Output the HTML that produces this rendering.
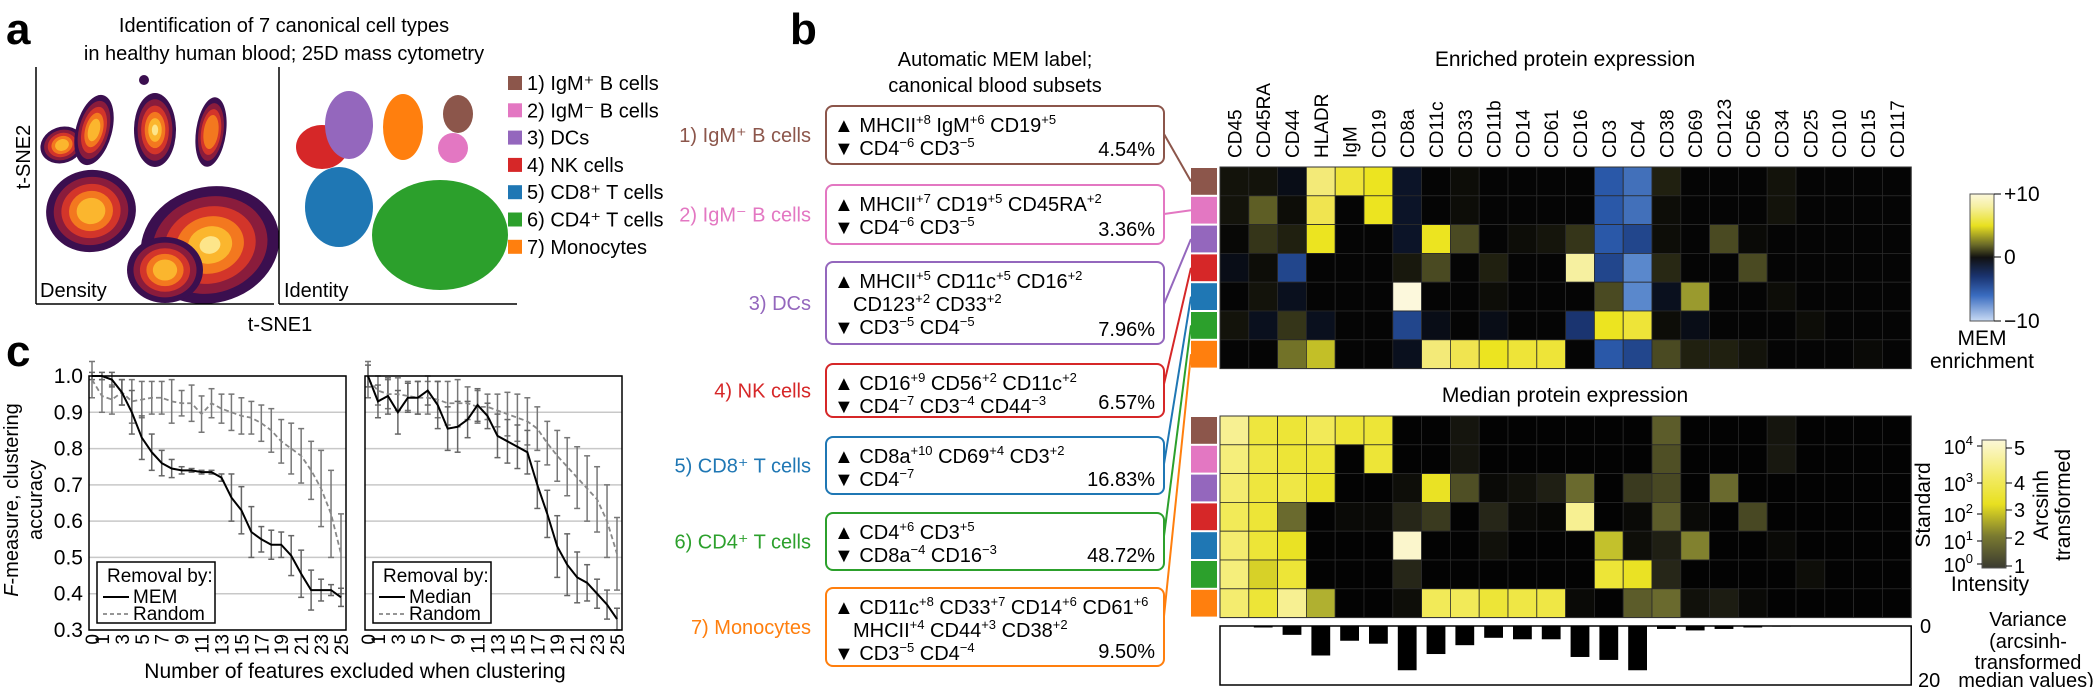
<!DOCTYPE html>
<html><head><meta charset="utf-8"><style>
html,body{margin:0;padding:0;background:#fff;}
svg{display:block;font-family:"Liberation Sans",Arial,sans-serif;}
</style></head><body>
<svg id="fig" width="2100" height="687" viewBox="0 0 2100 687" xmlns="http://www.w3.org/2000/svg">
<defs>
<linearGradient id="memGrad" x1="0" y1="0" x2="0" y2="1">
<stop offset="0" stop-color="#fcf8dc"/><stop offset="0.1" stop-color="#f6f0a0"/><stop offset="0.25" stop-color="#e8e020"/><stop offset="0.4" stop-color="#6a6a28"/><stop offset="0.5" stop-color="#111"/><stop offset="0.65" stop-color="#1a3470"/><stop offset="0.8" stop-color="#3a6cc0"/><stop offset="1" stop-color="#c8daf4"/>
</linearGradient>
<linearGradient id="medGrad" x1="0" y1="0" x2="0" y2="1">
<stop offset="0" stop-color="#fcf8d8"/><stop offset="0.3" stop-color="#f2ea60"/><stop offset="0.5" stop-color="#e8e020"/><stop offset="0.75" stop-color="#7a7a30"/><stop offset="1" stop-color="#3a3a30"/>
</linearGradient>
</defs>

<!-- Panel a -->
<g>
<text x="6" y="44" font-size="44" font-weight="bold">a</text>
<text x="284" y="32" font-size="20" text-anchor="middle">Identification of 7 canonical cell types</text>
<text x="284" y="60" font-size="20" text-anchor="middle">in healthy human blood; 25D mass cytometry</text>
<g id="density"></g>
<g id="identity"></g>
<line x1="36" y1="67" x2="36" y2="304" stroke="#000" stroke-width="1.5"/>
<line x1="36" y1="304" x2="274" y2="304" stroke="#000" stroke-width="1.5"/>
<line x1="279" y1="67" x2="279" y2="304" stroke="#000" stroke-width="1.5"/>
<line x1="279" y1="304" x2="517" y2="304" stroke="#000" stroke-width="1.5"/>
<text transform="translate(30,157) rotate(-90)" font-size="20" text-anchor="middle">t-SNE2</text>
<text x="40" y="297" font-size="20">Density</text>
<text x="284" y="297" font-size="20">Identity</text>
<text x="280" y="331" font-size="20" text-anchor="middle">t-SNE1</text>
<g id="legendA"></g>
</g>

<!-- Panel c -->
<g>
<text x="6" y="366" font-size="44" font-weight="bold">c</text>
<text transform="translate(18,500) rotate(-90)" font-size="20" text-anchor="middle"><tspan font-style="italic">F</tspan>-measure, clustering</text>
<text transform="translate(42,500) rotate(-90)" font-size="20" text-anchor="middle">accuracy</text>
<g id="linePlots"></g>
<text x="355" y="678" font-size="21" text-anchor="middle">Number of features excluded when clustering</text>
</g>

<!-- Panel b -->
<g>
<text x="790" y="44" font-size="44" font-weight="bold">b</text>
<text x="995" y="66" font-size="20" text-anchor="middle">Automatic MEM label;</text>
<text x="995" y="92" font-size="20" text-anchor="middle">canonical blood subsets</text>
<text x="1565" y="66" font-size="21" text-anchor="middle">Enriched protein expression</text>
<text x="1565" y="402" font-size="21" text-anchor="middle">Median protein expression</text>
<g id="boxes"></g>
<g id="heat"></g>
<g id="colorbars"></g>
</g>
</svg>
<script>
// ---------- data ----------
const cellTypes = ["1) IgM⁺ B cells","2) IgM⁻ B cells","3) DCs","4) NK cells","5) CD8⁺ T cells","6) CD4⁺ T cells","7) Monocytes"];
const cellColors = ["#8c564b","#e377c2","#9467bd","#d62728","#1f77b4","#2ca02c","#ff7f0e"];
const markers = ["CD45","CD45RA","CD44","HLADR","IgM","CD19","CD8a","CD11c","CD33","CD11b","CD14","CD61","CD16","CD3","CD4","CD38","CD69","CD123","CD56","CD34","CD25","CD10","CD15","CD117"];
const enrich1 = [0.5,0.5,-0.5,8,6,5,-1,0,0.3,0,0,0,0,-5,-6,1,0,0,0,0.5,0,0,0,0];
const enrich2 = [0.5,2.5,0.3,7,0,5,-1,0,0.3,0,0,0,0,-5,-6,0.3,0,0,0,0.5,0,0,0,0];
const enrich3 = [0.1,1.5,1,5,0,0,-1,5,2,0,0.3,0.6,1.5,-5,-4,0.3,0,2,0.2,0,0,0,0,0];
const enrich4 = [-0.5,0.3,-4,0,0,0,0.7,2,0,1,0,0,9,-4,-7,1.2,0,0,2,0,0,0,0,0];
const enrich5 = [0,0.5,-0.7,0,0,0,10,0,0,0.3,0,0,0,2,-7,-0.7,4,0,0,0.3,0,0,0,0];
const enrich6 = [0.5,-0.7,1.5,-0.7,0,0,-4,-0.5,0,-0.5,0,0,-3,5,6,0.3,-0.5,0,0,0,0.3,0,0,0];
const enrich7 = [0,0,3,4.5,0,0,-0.7,8,7,5,6,6,0,-5,-4,2,1,1,0.5,0,0,0,0.2,0];
const median1 = [4.5,3.6,3.5,4,3.5,3.5,0,0,0.5,0,0,0,0,0,0,1.8,0,0,0,0.5,0,0,0,0];
const median2 = [4.3,3.7,3.5,3.5,0,3.5,0,0,0.5,0,0,0,0,0,0,1.6,0,0,0,0.6,0,0,0,0];
const median3 = [4.2,3.6,3.7,3.3,0,0,0.3,3.2,1.6,0.2,0.4,0.8,2,0,1.3,1.5,0,2,0,0,0,0,0,0];
const median4 = [4,3.5,2,0,0.2,0.2,1,1.3,0,1,0.2,0.1,4.5,0,0.2,1.8,0.2,0,1.5,0,0,0,0,0];
const median5 = [4.2,3.5,3.2,0,0,0,5,0,0,0.4,0,0,0,2.8,0.3,0.8,2.2,0,0,0.2,0,0,0,0];
const median6 = [4.3,3,3.5,0,0,0,1,0,0,0,0,0,0,3.5,3.2,1,0,0,0,0,0.3,0,0,0];
const median7 = [4.2,3.5,4.5,2.6,0,0,0.3,4,4,3.5,3.7,3.7,0.2,0,1.8,2,0.4,0.7,0.2,0,0,0,0,0];
const variance = [0,0.5,3,10,5,6,15,9.5,6.5,4,4.5,4.5,10.5,11.5,15,1,1.5,1,0.5,0.2,0,0,0,0];
const boxPercents = ["4.54%","3.36%","7.96%","6.57%","16.83%","48.72%","9.50%"];

const featX = [0,1,2,3,4,5,6,7,8,9,10,11,12,13,14,15,16,17,18,19,20,21,22,23,24,25];
const xTickLabels = ["0","1","3","5","7","9","11","13","15","17","19","21","23","25"];
const yTickLabels = ["1.0","0.9","0.8","0.7","0.6","0.5","0.4","0.3"];
const memF = [1.0,1.0,0.99,0.955,0.90,0.83,0.79,0.76,0.745,0.74,0.74,0.735,0.735,0.72,0.665,0.63,0.57,0.55,0.535,0.535,0.505,0.455,0.41,0.41,0.41,0.39];
const memErr = [0.01,0.01,0.02,0.035,0.06,0.06,0.05,0.035,0.025,0.01,0.005,0.005,0.005,0.01,0.065,0.065,0.07,0.035,0.04,0.035,0.055,0.065,0.055,0.03,0.015,0.025];
const rand1F = [0.99,0.945,0.935,0.955,0.93,0.935,0.94,0.94,0.93,0.925,0.925,0.895,0.925,0.91,0.9,0.89,0.885,0.87,0.85,0.82,0.80,0.78,0.74,0.69,0.62,0.51];
const rand1Err = [0.05,0.045,0.04,0.035,0.06,0.05,0.045,0.045,0.06,0.035,0.05,0.05,0.04,0.04,0.05,0.05,0.045,0.05,0.06,0.06,0.07,0.075,0.08,0.105,0.12,0.11];
const medF = [1.0,0.93,0.945,0.90,0.94,0.94,0.96,0.92,0.855,0.86,0.88,0.92,0.89,0.835,0.82,0.805,0.79,0.70,0.62,0.53,0.48,0.445,0.43,0.40,0.37,0.33];
const medErr = [0.03,0.045,0.05,0.06,0.04,0.045,0.04,0.065,0.06,0.07,0.05,0.045,0.035,0.06,0.06,0.06,0.06,0.065,0.065,0.085,0.085,0.07,0.05,0.04,0.04,0.03];
const rand2F = [0.99,0.96,0.95,0.95,0.945,0.94,0.94,0.935,0.925,0.925,0.925,0.915,0.915,0.905,0.895,0.885,0.875,0.855,0.815,0.78,0.75,0.72,0.69,0.66,0.60,0.51];
const rand2Err = [0.05,0.04,0.04,0.045,0.04,0.045,0.045,0.05,0.06,0.065,0.045,0.045,0.035,0.045,0.06,0.065,0.065,0.06,0.06,0.07,0.08,0.085,0.09,0.09,0.1,0.1];

// ---------- helpers ----------
const NS="http://www.w3.org/2000/svg";
function mk(parent,tag,attrs){const e=document.createElementNS(NS,tag);for(const k in attrs)e.setAttribute(k,attrs[k]);parent.appendChild(e);return e;}
function hex(c){return [parseInt(c.slice(1,3),16),parseInt(c.slice(3,5),16),parseInt(c.slice(5,7),16)];}
function interp(stops,v){
  if(v<=stops[0][0])return stops[0][1];
  for(let i=1;i<stops.length;i++){if(v<=stops[i][0]){const a=stops[i-1],b=stops[i];const t=(v-a[0])/(b[0]-a[0]);const ca=hex(a[1]),cb=hex(b[1]);return "rgb("+ca.map((x,j)=>Math.round(x+(cb[j]-x)*t)).join(",")+")";}}
  return stops[stops.length-1][1];
}
const memStops=[[-10,"#c0d4f0"],[-7,"#5a88cc"],[-5,"#2a58a8"],[-3,"#1a3470"],[-1,"#0c1428"],[0,"#050505"],[1,"#202010"],[2,"#4a4a22"],[4,"#9a9a2e"],[5,"#ece420"],[7,"#f0e450"],[9,"#f6f0a0"],[10,"#fcf8dc"]];
const medStops=[[0,"#030303"],[1,"#262618"],[2,"#6a6a2e"],[2.6,"#b0b030"],[3.2,"#eae224"],[4,"#f2ea58"],[5,"#fbf6cc"]];

// ---------- panel a blobs ----------
const dens=document.getElementById('density');
const dCols=["#3b0f4f","#8a1c3c","#d3352a","#f3781f","#fbb62e","#fde58a"];
function densBlob(cx,cy,rx,ry,rot,levels){
  for(let i=0;i<levels;i++){const f=1-i*0.17;
    const e=mk(dens,'ellipse',{cx:cx,cy:cy,rx:rx*f,ry:ry*f,fill:dCols[i],transform:`rotate(${rot} ${cx} ${cy})`});
    
    }
}
mk(dens,'circle',{cx:144,cy:80,r:5,fill:"#3b0f4f"});
densBlob(62,145,22,18,-20,5);densBlob(94,130,18,36,15,5);
densBlob(155,130,21,37,0,6);densBlob(211,132,15,35,8,4);
densBlob(91,211,45,41,-10,5);densBlob(210,245,70,58,-15,6);densBlob(165,270,38,33,0,5);
const ide=document.getElementById('identity');
[[322,147,26,22,0,3],[349,125,24,34,0,2],[403,127,20,33,0,6],[458,114,15,19,0,0],[453,148,15,15,0,1],[339,207,34,40,0,4],[440,235,68,55,0,5]].forEach(b=>{
  const e=mk(ide,'ellipse',{cx:b[0],cy:b[1],rx:b[2],ry:b[3],fill:cellColors[b[5]]});
  
  
});
const legA=document.getElementById('legendA');
cellTypes.forEach((t,i)=>{const y=83+i*27.3;
  const r=mk(legA,'rect',{x:508,y:y-7,width:14,height:14,fill:cellColors[i]});
  
  
  const tx=mk(legA,'text',{x:527,y:y+7,'font-size':20});tx.textContent=t;
  
  
});

// ---------- panel c ----------
const lp=document.getElementById('linePlots');
function linePlot(left,series,serErr,rnd,rndErr,legName){
  const top=376,bot=630,w=257;
  const X=i=>left+3+i*(w-8)/25;
  const Y=v=>top+(1.0-v)/0.7*(bot-top);
  const g=mk(lp,'g',{});
  
  
  yTickLabels.forEach(l=>{const v=parseFloat(l);
    const gl=mk(g,'line',{x1:left,x2:left+w,y1:Y(v),y2:Y(v),stroke:"#c8c8c8","stroke-width":1.5});
    
    
  });
  function errs(vals,e,col){vals.forEach((v,i)=>{const x=X(featX[i]);
    mk(g,'line',{x1:x,x2:x,y1:Y(v+e[i]),y2:Y(v-e[i]),stroke:col,"stroke-width":1.5});
    mk(g,'line',{x1:x-3,x2:x+3,y1:Y(v+e[i]),y2:Y(v+e[i]),stroke:col,"stroke-width":1.5});
    mk(g,'line',{x1:x-3,x2:x+3,y1:Y(v-e[i]),y2:Y(v-e[i]),stroke:col,"stroke-width":1.5});});}
  errs(rnd,rndErr,"#777");errs(series,serErr,"#666");
  const pr=mk(g,'polyline',{points:rnd.map((v,i)=>X(featX[i])+","+Y(v)).join(" "),fill:"none",stroke:"#888","stroke-width":1.8,"stroke-dasharray":"5,3"});
  
  
  const ps=mk(g,'polyline',{points:series.map((v,i)=>X(featX[i])+","+Y(v)).join(" "),fill:"none",stroke:"#000","stroke-width":2});
  
  
  mk(g,'rect',{x:left,y:top,width:w,height:bot-top,fill:"none",stroke:"#000","stroke-width":1.5});
  xTickLabels.forEach(l=>{const x=X(parseInt(l));
    const t=mk(g,'text',{transform:`translate(${x+7},634) rotate(-90)`,'font-size':19,'text-anchor':'end'});t.textContent=l;
    
    });
  const lx=left+8,ly=562;
  const lr=mk(g,'rect',{x:lx,y:ly,width:118,height:61,fill:"#fff",stroke:"#000","stroke-width":1.5});
  
  
  const t1=mk(g,'text',{x:lx+10,y:ly+20,'font-size':19});t1.textContent="Removal by:";
  mk(g,'line',{x1:lx+6,x2:lx+32,y1:ly+35,y2:ly+35,stroke:"#000","stroke-width":2});
  const t2=mk(g,'text',{x:lx+36,y:ly+41,'font-size':19});t2.textContent=legName;
  mk(g,'line',{x1:lx+6,x2:lx+32,y1:ly+52,y2:ly+52,stroke:"#888","stroke-width":1.8,"stroke-dasharray":"4,3"});
  const t3=mk(g,'text',{x:lx+36,y:ly+58,'font-size':19});t3.textContent="Random";
}
yTickLabels.forEach(l=>{const v=parseFloat(l);const y=376+(1.0-v)/0.7*254;
  const t=mk(lp,'text',{x:83,y:y+7,'font-size':21,'text-anchor':'end'});t.textContent=l;
  
  });
linePlot(89,memF,memErr,rand1F,rand1Err,"MEM");
linePlot(365,medF,medErr,rand2F,rand2Err,"Median");

// ---------- panel b boxes ----------
const bx=document.getElementById('boxes');
const boxTops=[106,185,262,364,437,513,588];
const boxHs=[58,59,82,53,57,57,78];
const boxLines=[
 [["▲ MHCII","+8"," IgM","+6"," CD19","+5"],["▼ CD4","−6"," CD3","−5"]],
 [["▲ MHCII","+7"," CD19","+5"," CD45RA","+2"],["▼ CD4","−6"," CD3","−5"]],
 [["▲ MHCII","+5"," CD11c","+5"," CD16","+2"],["CD123","+2"," CD33","+2"],["▼ CD3","−5"," CD4","−5"]],
 [["▲ CD16","+9"," CD56","+2"," CD11c","+2"],["▼ CD4","−7"," CD3","−4"," CD44","−3"]],
 [["▲ CD8a","+10"," CD69","+4"," CD3","+2"],["▼ CD4","−7"]],
 [["▲ CD4","+6"," CD3","+5"],["▼ CD8a","−4"," CD16","−3"]],
 [["▲ CD11c","+8"," CD33","+7"," CD14","+6"," CD61","+6"],["MHCII","+4"," CD44","+3"," CD38","+2"],["▼ CD3","−5"," CD4","−4"]]
];
const rowTop=167,medTop=416,rowH=28.8,colL=1220,colW=28.8;
const anchors=[134,214,304,384,464,536,616];
cellTypes.forEach((t,i)=>{
  const top=boxTops[i],h=boxHs[i],c=cellColors[i];
  const lab=mk(bx,'text',{x:811,y:top+h/2+7,'font-size':20,'text-anchor':'end',fill:c});lab.textContent=t;
  
  
  const r=mk(bx,'rect',{x:826,y:top,width:338,height:h,rx:7,fill:"#fff",stroke:c,"stroke-width":2});
  
  
  boxLines[i].forEach((ln,j)=>{
    const tx=mk(bx,'text',{x:ln[0].startsWith("▲")||ln[0].startsWith("▼")?834:853,y:top+26+j*23,'font-size':20});
    ln.forEach((s,k)=>{const sp=mk(tx,'tspan',k%2?{'font-size':13,dy:-8}:(k>0?{dy:8}:{}));sp.textContent=s;});
  });
  const p=mk(bx,'text',{x:1155,y:top+h-8,'font-size':20,'text-anchor':'end'});p.textContent=boxPercents[i];
  
  
  const cy=rowTop+rowH*(i+0.5);
  const cl=mk(bx,'line',{x1:1164,y1:anchors[i],x2:1191,y2:cy,stroke:c,"stroke-width":2});
  
  
});

// ---------- heatmaps ----------
const hm=document.getElementById('heat');
const enrichRows=[enrich1,enrich2,enrich3,enrich4,enrich5,enrich6,enrich7];
const medianRows=[median1,median2,median3,median4,median5,median6,median7];
function heatmap(rows,top,stops,name){
  rows.forEach((row,r)=>{
    const sq=mk(hm,'rect',{x:1191,y:top+r*rowH+1,width:26,height:rowH-2,fill:cellColors[r]});
    
    
    row.forEach((v,c)=>{
      const cell=mk(hm,'rect',{x:colL+c*colW,y:top+r*rowH,width:colW,height:rowH,fill:interp(stops,v),stroke:"#2a2a2a","stroke-width":0.8});
      
      
    });
  });
  mk(hm,'rect',{x:colL,y:top,width:colW*markers.length,height:rowH*rows.length,fill:"none",stroke:"#333","stroke-width":1});
}
heatmap(enrichRows,rowTop,memStops,'enriched');
heatmap(medianRows,medTop,medStops,'median');
markers.forEach((m,c)=>{
  const t=mk(hm,'text',{transform:`translate(${colL+c*colW+colW/2+7},158) rotate(-90)`,'font-size':19});t.textContent=m;
  
  
});
const vTop=626,vBot=685,vMax=20;
mk(hm,'rect',{x:colL,y:vTop,width:colW*markers.length,height:vBot-vTop,fill:"#fff",stroke:"#000","stroke-width":1.5});
variance.forEach((v,c)=>{
  const b=mk(hm,'rect',{x:colL+c*colW+5,y:vTop,width:colW-10,height:v/vMax*(vBot-vTop),fill:"#000"});
  
  
});

// ---------- colorbars / annotations ----------
const cb=document.getElementById('colorbars');
function txt(x,y,s,fs,anchor,name,extra){const t=mk(cb,'text',Object.assign({x:x,y:y,'font-size':fs,'text-anchor':anchor||'start'},extra||{}));t.textContent=s;
  
  return t;}
const r1=mk(cb,'rect',{x:1970,y:194,width:24,height:127,fill:"url(#memGrad)",stroke:"#555","stroke-width":1});


[[194,"+10"],[257,"0"],[321,"−10"]].forEach(a=>{mk(cb,'line',{x1:1994,x2:2001,y1:a[0],y2:a[0],stroke:"#000"});txt(2004,a[0]+7,a[1],21,'start','mem-colorbar-tick');});
txt(1982,345,"MEM",21,'middle','mem-colorbar-title');
txt(1982,368,"enrichment",21,'middle','mem-colorbar-title');
const r2=mk(cb,'rect',{x:1982,y:440,width:24,height:128,fill:"url(#medGrad)",stroke:"#555","stroke-width":1});


[[448,"5"],[483,"4"],[510,"3"],[538,"2"],[566,"1"]].forEach(a=>{mk(cb,'line',{x1:2006,x2:2012,y1:a[0],y2:a[0],stroke:"#000"});txt(2014,a[0]+7,a[1],20,'start','arcsinh-tick');});
[[446,"4"],[483,"3"],[514,"2"],[541,"1"],[564,"0"]].forEach(a=>{mk(cb,'line',{x1:1977,x2:1982,y1:a[0],y2:a[0],stroke:"#000"});
  const t=txt(1973,a[0]+8,"10",20,'end','standard-intensity-tick');const s=mk(t,'tspan',{'font-size':13,dy:-9});s.textContent=a[1];});
txt(0,0,"Standard",21,'middle','standard-axis-title',{transform:"translate(1930,505) rotate(-90)"});
txt(0,0,"Arcsinh",21,'middle','arcsinh-axis-title',{transform:"translate(2048,505) rotate(-90)"});
txt(0,0,"transformed",21,'middle','arcsinh-axis-title',{transform:"translate(2070,505) rotate(-90)"});
txt(1990,591,"Intensity",21,'middle','intensity-label');
txt(1920,633,"0",20,'start','variance-tick');
txt(1918,687,"20",20,'start','variance-tick');
txt(2028,626,"Variance",20,'middle','variance-title');
txt(2028,648,"(arcsinh-",20,'middle','variance-title');
txt(2028,669,"transformed",20,'middle','variance-title');
txt(2026,687,"median values)",20,'middle','variance-title');
</script>
</body></html>
